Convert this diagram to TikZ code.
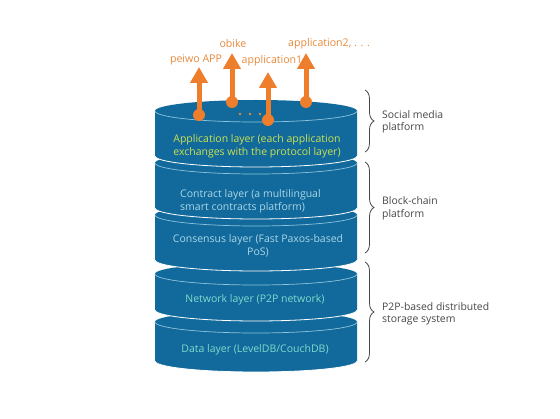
\documentclass[tikz,border=0pt]{standalone}
\usepackage{fontspec}
\setmainfont{Open Sans}
\usetikzlibrary{arrows.meta,decorations.pathreplacing}
\definecolor{diskblue}{RGB}{17,106,155}
\definecolor{rimblue}{RGB}{140,195,222}
\definecolor{apptext}{RGB}{205,226,80}
\definecolor{bctext}{RGB}{170,214,232}
\definecolor{p2ptext}{RGB}{128,218,204}
\definecolor{arrorange}{RGB}{238,125,44}
\definecolor{laborange}{RGB}{230,137,58}
\definecolor{bracegray}{RGB}{70,70,70}
\newcommand\diskcyl[2]{%
  \fill[diskblue] (155,#1) -- (155,#2) arc[start angle=180,end angle=360,x radius=101,y radius=11] -- (357,#1) -- cycle;
  \draw[white,line width=0.8pt] (155,#2) arc[start angle=180,end angle=360,x radius=101,y radius=11];
  \fill[diskblue] (256,#1) ellipse[x radius=101,y radius=11];
  \draw[rimblue,line width=0.7pt] (155,#1) arc[start angle=180,end angle=360,x radius=101,y radius=11];
}
\tikzset{
  layertext/.style={font=\fontsize{10.5}{13}\selectfont, align=center, inner sep=0pt},
  bracetext/.style={font=\fontsize{10.4}{12.5}\selectfont, align=left, anchor=west, inner sep=0pt, text=bracegray},
  applabel/.style={font=\fontsize{10.6}{12}\selectfont, text=laborange, inner sep=0pt},
  basedot/.style={circle, fill=arrorange, inner sep=0pt, minimum size=12pt},
  uparrow/.style={draw=arrorange, line width=5pt, -{Triangle[width=17pt,length=16pt]}},
  smalldot/.style={circle, fill=laborange, inner sep=0pt, minimum size=2.6pt},
  grpbrace/.style={draw=bracegray, line width=0.8pt, decorate, decoration={brace, amplitude=9pt}}
}
\begin{document}
\begin{tikzpicture}[x=1pt,y=1pt]
\useasboundingbox (0,0) rectangle (560,418);
% cylinders bottom to top
\diskcyl{96}{57}
\diskcyl{144}{108}
\diskcyl{203}{158}
\diskcyl{255}{210}
\diskcyl{307}{262}
% layer texts
\node[layertext, text=apptext] (tapp) at (257,272) {Application layer (each application\\exchanges with the protocol layer)};
\node[layertext, text=bctext, align=left, anchor=west] (tcon) at (180,217) {Contract layer (a multilingual\\smart contracts platform)};
\node[layertext, text=bctext] (tcons) at (258,172) {Consensus layer (Fast Paxos-based\\PoS)};
\node[layertext, text=p2ptext] (tnet) at (255,118) {Network layer (P2P network)};
\node[layertext, text=p2ptext] (tdata) at (255,68) {Data layer (LevelDB/CouchDB)};
% dots on app layer
\node[smalldot] (d1) at (240,304) {};
\node[smalldot] (d2) at (250,304) {};
\node[smalldot] (d3) at (260,304) {};
% arrows
\node[basedot] (b1) at (199,303) {};
\node[basedot] (b2) at (232,316) {};
\node[basedot] (b3) at (268,298) {};
\node[basedot] (b4) at (306,316) {};
\coordinate (t1) at (199,351);
\coordinate (t2) at (232,365);
\coordinate (t3) at (268,346);
\coordinate (t4) at (306,365);
\draw[uparrow] (b1.center) -- (t1);
\draw[uparrow] (b2.center) -- (t2);
\draw[uparrow] (b3.center) -- (t3);
\draw[uparrow] (b4.center) -- (t4);
% labels
\node[applabel] (l1) at (196,358) {peiwo APP};
\node[applabel] (l2) at (233,374) {obike};
\node[applabel] (l3) at (272,357) {application1};
\node[applabel, anchor=west] (l4) at (288,374) {application2, . . .};
% braces
\coordinate (s1) at (365,328);
\coordinate (s2) at (365,266);
\coordinate (k1) at (365,256);
\coordinate (k2) at (365,165);
\coordinate (p1) at (365,156);
\coordinate (p2) at (365,56);
\draw[grpbrace] (s1) -- (s2);
\draw[grpbrace] (k1) -- (k2);
\draw[grpbrace] (p1) -- (p2);
\node[bracetext] (g1) at (382,296) {Social media\\platform};
\node[bracetext] (g2) at (382,209.5) {Block-chain\\platform};
\node[bracetext] (g3) at (382,104) {P2P-based distributed\\storage system};
\end{tikzpicture}
\end{document}
